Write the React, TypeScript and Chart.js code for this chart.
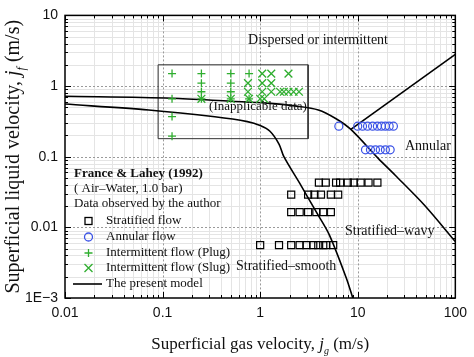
import React, { useEffect, useRef } from 'react';
import { Chart, registerables } from 'chart.js';

Chart.register(...registerables);

const X_MIN = 0.01;
const X_MAX = 100;
const Y_MIN = 0.001;
const Y_MAX = 10;
const xTickValues = [0.01, 0.1, 1, 10, 100];
const xTickLabels = ['0.01', '0.1', '1', '10', '100'];
const yTickValues = [0.001, 0.01, 0.1, 1, 10];
const yTickLabels = ['1E\u22123', '0.01', '0.1', '1', '10'];

// Stratified flow (squares)
const stratifiedX = [
  4.0, 4.7, 6.0, 6.6, 7.9, 9.1, 10.7, 12.9, 15.9,
  2.08, 3.1, 3.6, 4.2, 5.3, 6.3,
  2.08, 2.54, 3.1, 3.77, 4.43, 5.3,
  1.0, 1.56, 2.08, 2.54, 2.98, 3.5, 3.94, 4.43, 4.75, 5.6,
];
const stratifiedY = [
  0.043, 0.043, 0.043, 0.043, 0.043, 0.043, 0.043, 0.043, 0.043,
  0.029, 0.029, 0.029, 0.029, 0.029, 0.029,
  0.0164, 0.0164, 0.0164, 0.0164, 0.0164, 0.0164,
  0.0056, 0.0056, 0.0056, 0.0056, 0.0056, 0.0056, 0.0056, 0.0056, 0.0056, 0.0056,
];

// Annular flow (circles)
const annularX = [6.4, 10, 11.2, 12.6, 14.2, 15.9, 17.5, 19.2, 21, 23.2, 12.0, 13.5, 15.2, 17.0, 19.2, 21.5];
const annularY = [0.27, 0.27, 0.27, 0.27, 0.27, 0.27, 0.27, 0.27, 0.27, 0.27, 0.125, 0.125, 0.125, 0.125, 0.125, 0.125];

// Intermittent flow (Plug)
const plugX = [0.125, 0.25, 0.5, 0.77, 0.25, 0.5, 0.25, 0.5, 0.125, 0.25, 0.5, 0.77, 0.125, 0.125];
const plugY = [1.5, 1.5, 1.5, 1.5, 1.1, 1.1, 0.83, 0.83, 0.66, 0.66, 0.66, 0.66, 0.37, 0.195];

// Intermittent flow (Slug)
const slugX = [1.05, 1.3, 1.95, 0.75, 1.05, 1.3, 0.75, 1.05, 1.3, 1.6, 1.75, 1.95, 2.2, 2.5, 0.25, 0.5, 0.77, 1.0, 1.1];
const slugY = [1.5, 1.5, 1.5, 1.1, 1.1, 1.1, 0.83, 0.83, 0.83, 0.83, 0.83, 0.83, 0.83, 0.83, 0.66, 0.66, 0.66, 0.66, 0.66];

// The present model: boundary curves
const upperCurveX = [0.01, 0.123, 0.5, 1.18, 2.37, 3.95, 6.0, 8.5, 16.3, 24.2, 48.6, 100];
const upperCurveY = [0.716, 0.673, 0.61, 0.574, 0.52, 0.459, 0.345, 0.243, 0.094, 0.0547, 0.0204, 0.0063];
const lowerCurveX = [0.01, 0.072, 0.343, 0.74, 1.0, 1.26, 1.56, 1.75, 2.53, 3.77, 5.1, 7.6, 8.9];
const lowerCurveY = [0.556, 0.459, 0.368, 0.314, 0.276, 0.229, 0.151, 0.1, 0.0425, 0.0164, 0.0079, 0.00195, 0.001];
const annularLineX = [8.5, 100];
const annularLineY = [0.243, 2.8];

// Inapplicable data box
const boxX = [0.09, 3.1, 3.1, 0.09, 0.09];
const boxY = [2.0, 2.0, 0.18, 0.18, 2.0];

const legendTitle = 'France & Lahey (1992)';
const legendSub = '( Air\u2013Water, 1.0 bar)';
const legendNote = 'Data observed by the author';
const legendLabels = ['Stratified flow', 'Annular flow', 'Intermittent flow (Plug)', 'Intermittent flow (Slug)', 'The present model'];

const GREEN = '#2fae2f';
const BLUE = '#3a52e6';
const SERIF = '"Liberation Serif", "Times New Roman", serif';
const SANS = '"Liberation Sans", Arial, sans-serif';

const zip = (xs: number[], ys: number[]) => xs.map((x, i) => ({ x, y: ys[i] }));

const labelFor = (vals: number[], labels: string[]) => (value: number) => {
  const i = vals.findIndex((t) => Math.abs(Math.log10(value) - Math.log10(t)) < 1e-6);
  return i >= 0 ? labels[i] : '';
};

function drawPlus(ctx: CanvasRenderingContext2D, x: number, y: number, r: number) {
  ctx.beginPath();
  ctx.moveTo(x - r, y);
  ctx.lineTo(x + r, y);
  ctx.moveTo(x, y - r);
  ctx.lineTo(x, y + r);
  ctx.stroke();
}
function drawX(ctx: CanvasRenderingContext2D, x: number, y: number, r: number) {
  ctx.beginPath();
  ctx.moveTo(x - r, y - r);
  ctx.lineTo(x + r, y + r);
  ctx.moveTo(x - r, y + r);
  ctx.lineTo(x + r, y - r);
  ctx.stroke();
}

const decoPlugin = {
  id: 'deco',
  beforeDatasetsDraw(chart: any) {
    const { ctx, chartArea: a, scales } = chart;
    const xs = scales.x;
    const ys = scales.y;
    ctx.save();
    ctx.lineWidth = 1;
    // minor grid
    ctx.strokeStyle = '#e4e4e4';
    for (let e = -2; e < 2; e++) {
      for (let m = 2; m <= 9; m++) {
        const px = Math.round(xs.getPixelForValue(m * Math.pow(10, e))) + 0.5;
        ctx.beginPath();
        ctx.moveTo(px, a.top);
        ctx.lineTo(px, a.bottom);
        ctx.stroke();
      }
    }
    for (let e = -3; e < 1; e++) {
      for (let m = 2; m <= 9; m++) {
        const py = Math.round(ys.getPixelForValue(m * Math.pow(10, e))) + 0.5;
        ctx.beginPath();
        ctx.moveTo(a.left, py);
        ctx.lineTo(a.right, py);
        ctx.stroke();
      }
    }
    // major grid (dotted)
    ctx.strokeStyle = '#9a9a9a';
    ctx.setLineDash([2, 2]);
    xTickValues.slice(1, -1).forEach((v) => {
      const px = Math.round(xs.getPixelForValue(v)) + 0.5;
      ctx.beginPath();
      ctx.moveTo(px, a.top);
      ctx.lineTo(px, a.bottom);
      ctx.stroke();
    });
    yTickValues.slice(1, -1).forEach((v) => {
      const py = Math.round(ys.getPixelForValue(v)) + 0.5;
      ctx.beginPath();
      ctx.moveTo(a.left, py);
      ctx.lineTo(a.right, py);
      ctx.stroke();
    });
    ctx.restore();
  },
  afterDraw(chart: any) {
    const { ctx, chartArea: a, scales } = chart;
    const xs = scales.x;
    const ys = scales.y;
    ctx.save();
    // ticks (inside) on all sides
    ctx.strokeStyle = '#000';
    ctx.lineWidth = 1;
    for (let e = -2; e <= 2; e++) {
      for (let m = 1; m <= 9; m++) {
        const v = m * Math.pow(10, e);
        if (v > X_MAX * 1.0001) break;
        const px = Math.round(xs.getPixelForValue(v)) + 0.5;
        const len = m === 1 ? 6 : 3;
        ctx.beginPath();
        ctx.moveTo(px, a.bottom);
        ctx.lineTo(px, a.bottom - len);
        ctx.moveTo(px, a.top);
        ctx.lineTo(px, a.top + len);
        ctx.stroke();
      }
    }
    for (let e = -3; e <= 1; e++) {
      for (let m = 1; m <= 9; m++) {
        const v = m * Math.pow(10, e);
        if (v > Y_MAX * 1.0001) break;
        const py = Math.round(ys.getPixelForValue(v)) + 0.5;
        const len = m === 1 ? 6 : 3;
        ctx.beginPath();
        ctx.moveTo(a.left, py);
        ctx.lineTo(a.left + len, py);
        ctx.moveTo(a.right, py);
        ctx.lineTo(a.right - len, py);
        ctx.stroke();
      }
    }
    // frame
    ctx.lineWidth = 1.5;
    ctx.strokeRect(a.left, a.top, a.right - a.left, a.bottom - a.top);

    // annotations
    ctx.fillStyle = '#111';
    ctx.textBaseline = 'middle';
    ctx.textAlign = 'center';
    ctx.font = `14px ${SERIF}`;
    ctx.fillText('Dispersed or intermittent', 318, 40);
    ctx.font = `13px ${SERIF}`;
    ctx.fillText('(Inapplicable data)', 258, 107);
    ctx.textAlign = 'left';
    ctx.font = `14px ${SERIF}`;
    ctx.fillText('Annular', 405, 146);
    ctx.fillText('Stratified\u2013wavy', 345, 231);
    ctx.fillText('Stratified\u2013smooth', 236, 266);

    // legend block
    ctx.font = `bold 13px ${SERIF}`;
    ctx.fillText(legendTitle, 74, 174);
    ctx.font = `13px ${SERIF}`;
    ctx.fillText(legendSub, 74, 189);
    ctx.fillText(legendNote, 74, 204);
    const rowY = [221, 237, 253, 268, 284];
    legendLabels.forEach((t, i) => ctx.fillText(t, 106, rowY[i]));
    ctx.lineWidth = 1.3;
    ctx.strokeStyle = '#000';
    ctx.strokeRect(85, rowY[0] - 3.5, 7, 7);
    ctx.strokeStyle = BLUE;
    ctx.beginPath();
    ctx.arc(88.5, rowY[1], 4, 0, Math.PI * 2);
    ctx.stroke();
    ctx.strokeStyle = GREEN;
    drawPlus(ctx, 88.5, rowY[2], 4);
    drawX(ctx, 88.5, rowY[3], 4);
    ctx.strokeStyle = '#000';
    ctx.lineWidth = 1.6;
    ctx.beginPath();
    ctx.moveTo(73, rowY[4]);
    ctx.lineTo(102, rowY[4]);
    ctx.stroke();

    // axis titles with italic j and subscript
    const drawTitle = (base: string, sub: string, size: number, cx: number, cy: number, rotate: boolean) => {
      ctx.save();
      ctx.translate(cx, cy);
      if (rotate) ctx.rotate(-Math.PI / 2);
      ctx.fillStyle = '#111';
      ctx.textBaseline = 'alphabetic';
      ctx.textAlign = 'left';
      const f1 = `${size}px ${SERIF}`;
      const fi = `italic ${size}px ${SERIF}`;
      const fs = `italic ${Math.round(size * 0.6)}px ${SERIF}`;
      const parts: [string, string, number][] = [
        [base, f1, 0],
        ['j', fi, 0],
        [sub, fs, size * 0.3],
        [' (m/s)', f1, 0],
      ];
      let total = 0;
      parts.forEach(([t, f]) => {
        ctx.font = f;
        total += ctx.measureText(t).width;
      });
      let x = -total / 2;
      const by = size * 0.33;
      parts.forEach(([t, f, dy]) => {
        ctx.font = f;
        ctx.fillText(t, x, by + dy);
        x += ctx.measureText(t).width;
      });
      ctx.restore();
    };
    drawTitle('Superficial gas velocity, ', 'g', 17, (a.left + a.right) / 2, 343, false);
    drawTitle('Superficial liquid velocity, ', 'f', 20, 12, (a.top + a.bottom) / 2, true);
    ctx.restore();
  },
};

export default function App() {
  const ref = useRef<HTMLCanvasElement>(null);
  useEffect(() => {
    document.body.style.margin = '0';
    const canvas = ref.current;
    if (!canvas) return;
    const lineDs = (xs: number[], ys: number[], color: string, width: number, tension: number) => ({
      data: zip(xs, ys),
      showLine: true,
      borderColor: color,
      borderWidth: width,
      pointRadius: 0,
      tension,
      fill: false,
    });
    const chart = new Chart(canvas, {
      type: 'scatter',
      data: {
        datasets: [
          {
            data: zip(stratifiedX, stratifiedY),
            pointStyle: 'rect',
            pointRadius: 5,
            borderColor: '#000',
            backgroundColor: 'transparent',
            borderWidth: 1.2,
          },
          {
            data: zip(annularX, annularY),
            pointStyle: 'circle',
            pointRadius: 4,
            borderColor: BLUE,
            backgroundColor: 'transparent',
            borderWidth: 1.2,
          },
          {
            data: zip(plugX, plugY),
            pointStyle: 'cross',
            pointRadius: 4,
            borderColor: GREEN,
            borderWidth: 1.3,
          },
          {
            data: zip(slugX, slugY),
            pointStyle: 'crossRot',
            pointRadius: 5.5,
            borderColor: GREEN,
            borderWidth: 1.3,
          },
          lineDs(upperCurveX, upperCurveY, '#000', 1.6, 0.3),
          lineDs(lowerCurveX, lowerCurveY, '#000', 1.6, 0.3),
          lineDs(annularLineX, annularLineY, '#000', 1.6, 0),
          lineDs(boxX, boxY, '#333', 1, 0),
        ] as any,
      },
      options: {
        animation: false,
        responsive: false,
        devicePixelRatio: 1,
        events: [],
        layout: { padding: { top: 8, right: 12, left: 0, bottom: 0 } },
        plugins: { legend: { display: false }, tooltip: { enabled: false } },
        scales: {
          x: {
            type: 'logarithmic',
            min: X_MIN,
            max: X_MAX,
            grid: { display: false, drawTicks: false },
            border: { display: false },
            ticks: {
              autoSkip: false,
              maxRotation: 0,
              padding: 7,
              color: '#111',
              font: { family: SANS, size: 14 },
              callback: labelFor(xTickValues, xTickLabels) as any,
            },
            afterFit: (s: any) => {
              s.height = 59;
            },
          },
          y: {
            type: 'logarithmic',
            min: Y_MIN,
            max: Y_MAX,
            grid: { display: false, drawTicks: false },
            border: { display: false },
            ticks: {
              autoSkip: false,
              padding: 7,
              color: '#111',
              font: { family: SANS, size: 14 },
              callback: labelFor(yTickValues, yTickLabels) as any,
            },
            afterFit: (s: any) => {
              s.width = 65;
            },
          },
        },
      },
      plugins: [decoPlugin],
    });
    return () => chart.destroy();
  }, []);
  return (
    <canvas ref={ref} width={474} height={357} style={{ display: 'block', width: 474, height: 357 }} />
  );
}
